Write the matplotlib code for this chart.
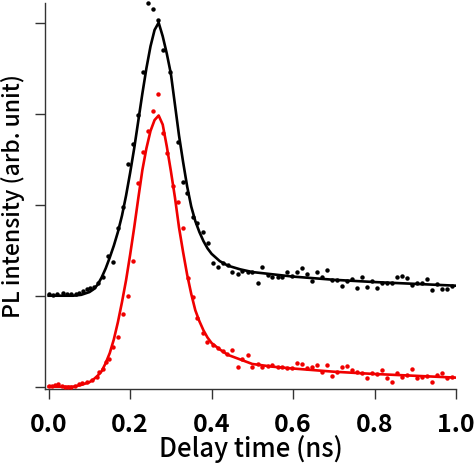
import matplotlib
matplotlib.use("Agg")
import matplotlib.pyplot as plt
import numpy as np

# ---- data (delay time in ns, PL intensity in arb. unit; black trace offset by 1) ----
t_black = [0.000, 0.010, 0.020, 0.034, 0.044, 0.056, 0.067, 0.075, 0.085, 0.095, 0.101,
           0.111, 0.122, 0.133, 0.146, 0.157, 0.171, 0.182, 0.195, 0.208, 0.220, 0.231,
           0.2445, 0.255, 0.269, 0.281, 0.298, 0.318, 0.329, 0.340, 0.354, 0.365, 0.378,
           0.392, 0.404, 0.416, 0.427, 0.440, 0.451, 0.464, 0.475, 0.489, 0.500, 0.513,
           0.524, 0.538, 0.549, 0.562, 0.574, 0.586, 0.598, 0.610, 0.623, 0.635, 0.647,
           0.659, 0.672, 0.684, 0.696, 0.709, 0.721, 0.733, 0.745, 0.758, 0.770, 0.782,
           0.795, 0.807, 0.819, 0.831, 0.844, 0.856, 0.868, 0.880, 0.893, 0.905, 0.917,
           0.930, 0.942, 0.954, 0.966, 0.979, 0.991]
pl_black = [1.019, 1.008, 1.015, 1.026, 1.015, 1.015, 1.015, 1.026, 1.055, 1.070, 1.080,
            1.100, 1.136, 1.209, 1.436, 1.374, 1.741, 1.971, 2.447, 2.667, 2.986, 3.462,
            4.22, 4.147, 4.03, 3.70, 3.46, 2.69, 2.25, 2.125, 1.87, 1.80, 1.70,
            1.576, 1.36, 1.32, 1.356, 1.34, 1.264, 1.238, 1.275, 1.257, 1.257, 1.143,
            1.319, 1.227, 1.202, 1.209, 1.209, 1.264, 1.22, 1.264, 1.30, 1.238, 1.165,
            1.264, 1.202, 1.282, 1.172, 1.172, 1.107, 1.165, 1.18, 1.081, 1.202, 1.099,
            1.165, 1.081, 1.143, 1.143, 1.143, 1.202, 1.216, 1.19, 1.118, 1.136, 1.136,
            1.18, 1.063, 1.129, 1.07, 1.07, 1.11]

t_red = [0.000, 0.0074, 0.0155, 0.0236, 0.032, 0.040, 0.048, 0.056, 0.065, 0.075, 0.083,
         0.093, 0.1056, 0.118, 0.124, 0.134, 0.141, 0.149, 0.1586, 0.171, 0.182, 0.1955,
         0.2077, 0.220, 0.2308, 0.2445, 0.2553, 0.269, 0.280, 0.291, 0.306, 0.318, 0.329,
         0.343, 0.3535, 0.365, 0.378, 0.389, 0.404, 0.416, 0.427, 0.439, 0.451, 0.464,
         0.475, 0.489, 0.500, 0.513, 0.524, 0.538, 0.549, 0.562, 0.574, 0.586, 0.598,
         0.610, 0.623, 0.635, 0.647, 0.659, 0.672, 0.684, 0.696, 0.709, 0.721, 0.733,
         0.745, 0.758, 0.770, 0.782, 0.795, 0.807, 0.819, 0.831, 0.844, 0.856, 0.868,
         0.880, 0.893, 0.905, 0.917, 0.930, 0.942, 0.954, 0.966, 0.979, 0.991]
pl_red = [0.011, 0.011, 0.019, 0.026, 0.008, 0.0, 0.0, 0.0, 0.011, 0.03, 0.037,
          0.055, 0.074, 0.11, 0.165, 0.19, 0.275, 0.31, 0.44, 0.55, 0.795, 1.0,
          1.385, 2.24, 2.58, 2.81, 3.03, 3.22, 2.79, 2.57, 2.20, 2.03, 1.74,
          1.20, 0.99, 0.75, 0.587, 0.495, 0.46, 0.42, 0.39, 0.36, 0.403, 0.22,
          0.304, 0.348, 0.22, 0.25, 0.213, 0.227, 0.238, 0.22, 0.22, 0.202, 0.202,
          0.264, 0.25, 0.202, 0.22, 0.238, 0.165, 0.238, 0.117, 0.165, 0.213, 0.227,
          0.183, 0.165, 0.154, 0.099, 0.147, 0.135, 0.183, 0.092, 0.055, 0.147, 0.103,
          0.125, 0.191, 0.092, 0.11, 0.117, 0.055, 0.125, 0.154, 0.092, 0.103]

# fitted curves
t_fit = [0.0, 0.06, 0.08, 0.10, 0.11, 0.12, 0.13, 0.14, 0.15, 0.16, 0.17, 0.18, 0.19,
         0.20, 0.21, 0.22, 0.23, 0.24, 0.25, 0.26, 0.27, 0.28, 0.29, 0.30, 0.31, 0.32,
         0.33, 0.34, 0.35, 0.36, 0.37, 0.38, 0.39, 0.40, 0.42, 0.44, 0.47, 0.50, 0.55,
         0.60, 0.70, 0.80, 0.90, 1.00]
fit_black = [1.0, 1.0, 1.01, 1.04, 1.07, 1.12, 1.20, 1.30, 1.42, 1.55, 1.70, 1.88, 2.10,
             2.35, 2.62, 2.92, 3.22, 3.50, 3.74, 3.92, 4.0, 3.85, 3.66, 3.44, 3.10, 2.76,
             2.47, 2.20, 1.98, 1.82, 1.70, 1.60, 1.52, 1.46, 1.38, 1.33, 1.29, 1.26, 1.235,
             1.21, 1.175, 1.15, 1.13, 1.11]
fit_red = [0.0, 0.0, 0.02, 0.05, 0.08, 0.12, 0.17, 0.26, 0.37, 0.52, 0.71, 0.93, 1.17,
           1.45, 1.75, 2.07, 2.38, 2.62, 2.81, 2.93, 2.98, 2.88, 2.64, 2.37, 2.08, 1.75,
           1.48, 1.23, 1.02, 0.84, 0.72, 0.62, 0.54, 0.48, 0.41, 0.35, 0.30, 0.25, 0.22,
           0.20, 0.165, 0.14, 0.12, 0.10]

xticks = [0.0, 0.2, 0.4, 0.6, 0.8, 1.0]
xticklabels = ["0.0", "0.2", "0.4", "0.6", "0.8", "1.0"]
yticks = [0, 1, 2, 3, 4]

RED = "#f00000"
FONT = ["Noto Sans CJK JP", "DejaVu Sans"]

fig = plt.figure(figsize=(4.74, 4.63), dpi=100)
ax = fig.add_axes([45 / 474, 74 / 463, 411 / 474, 386 / 463])

ax.plot(t_fit, fit_black, color="black", lw=1.9, zorder=2)
ax.plot(t_fit, fit_red, color=RED, lw=1.9, zorder=2)
ax.plot(t_black, pl_black, "o", color="black", ms=3.2, mew=0, zorder=3, clip_on=False)
ax.plot(t_red, pl_red, "o", color=RED, ms=3.2, mew=0, zorder=3, clip_on=False)

ax.set_xlim(-0.009, 1.0)
ax.set_ylim(-0.025, 4.216)

for s in ["top", "right"]:
    ax.spines[s].set_visible(False)
for s in ["left", "bottom"]:
    ax.spines[s].set_color("#333333")
    ax.spines[s].set_linewidth(1.0)

ax.set_xticks(xticks)
ax.set_xticklabels(xticklabels, fontfamily=FONT, fontsize=18, fontweight="bold")
ax.set_yticks(yticks)
ax.set_yticklabels([])
ax.tick_params(axis="x", direction="out", length=7, width=1.0, color="#333333", pad=10)
ax.tick_params(axis="y", direction="out", length=7, width=1.0, color="#333333")

ax.set_xlabel("Delay time (ns)", fontfamily=FONT, fontsize=18.5, fontweight="medium",
              va="center")
ax.xaxis.set_label_coords(0.5, -60 / 386)
ax.set_ylabel("PL intensity (arb. unit)", fontfamily=FONT, fontsize=16.5,
              fontweight="medium", labelpad=4)

fig.savefig("out.png", dpi=100)
